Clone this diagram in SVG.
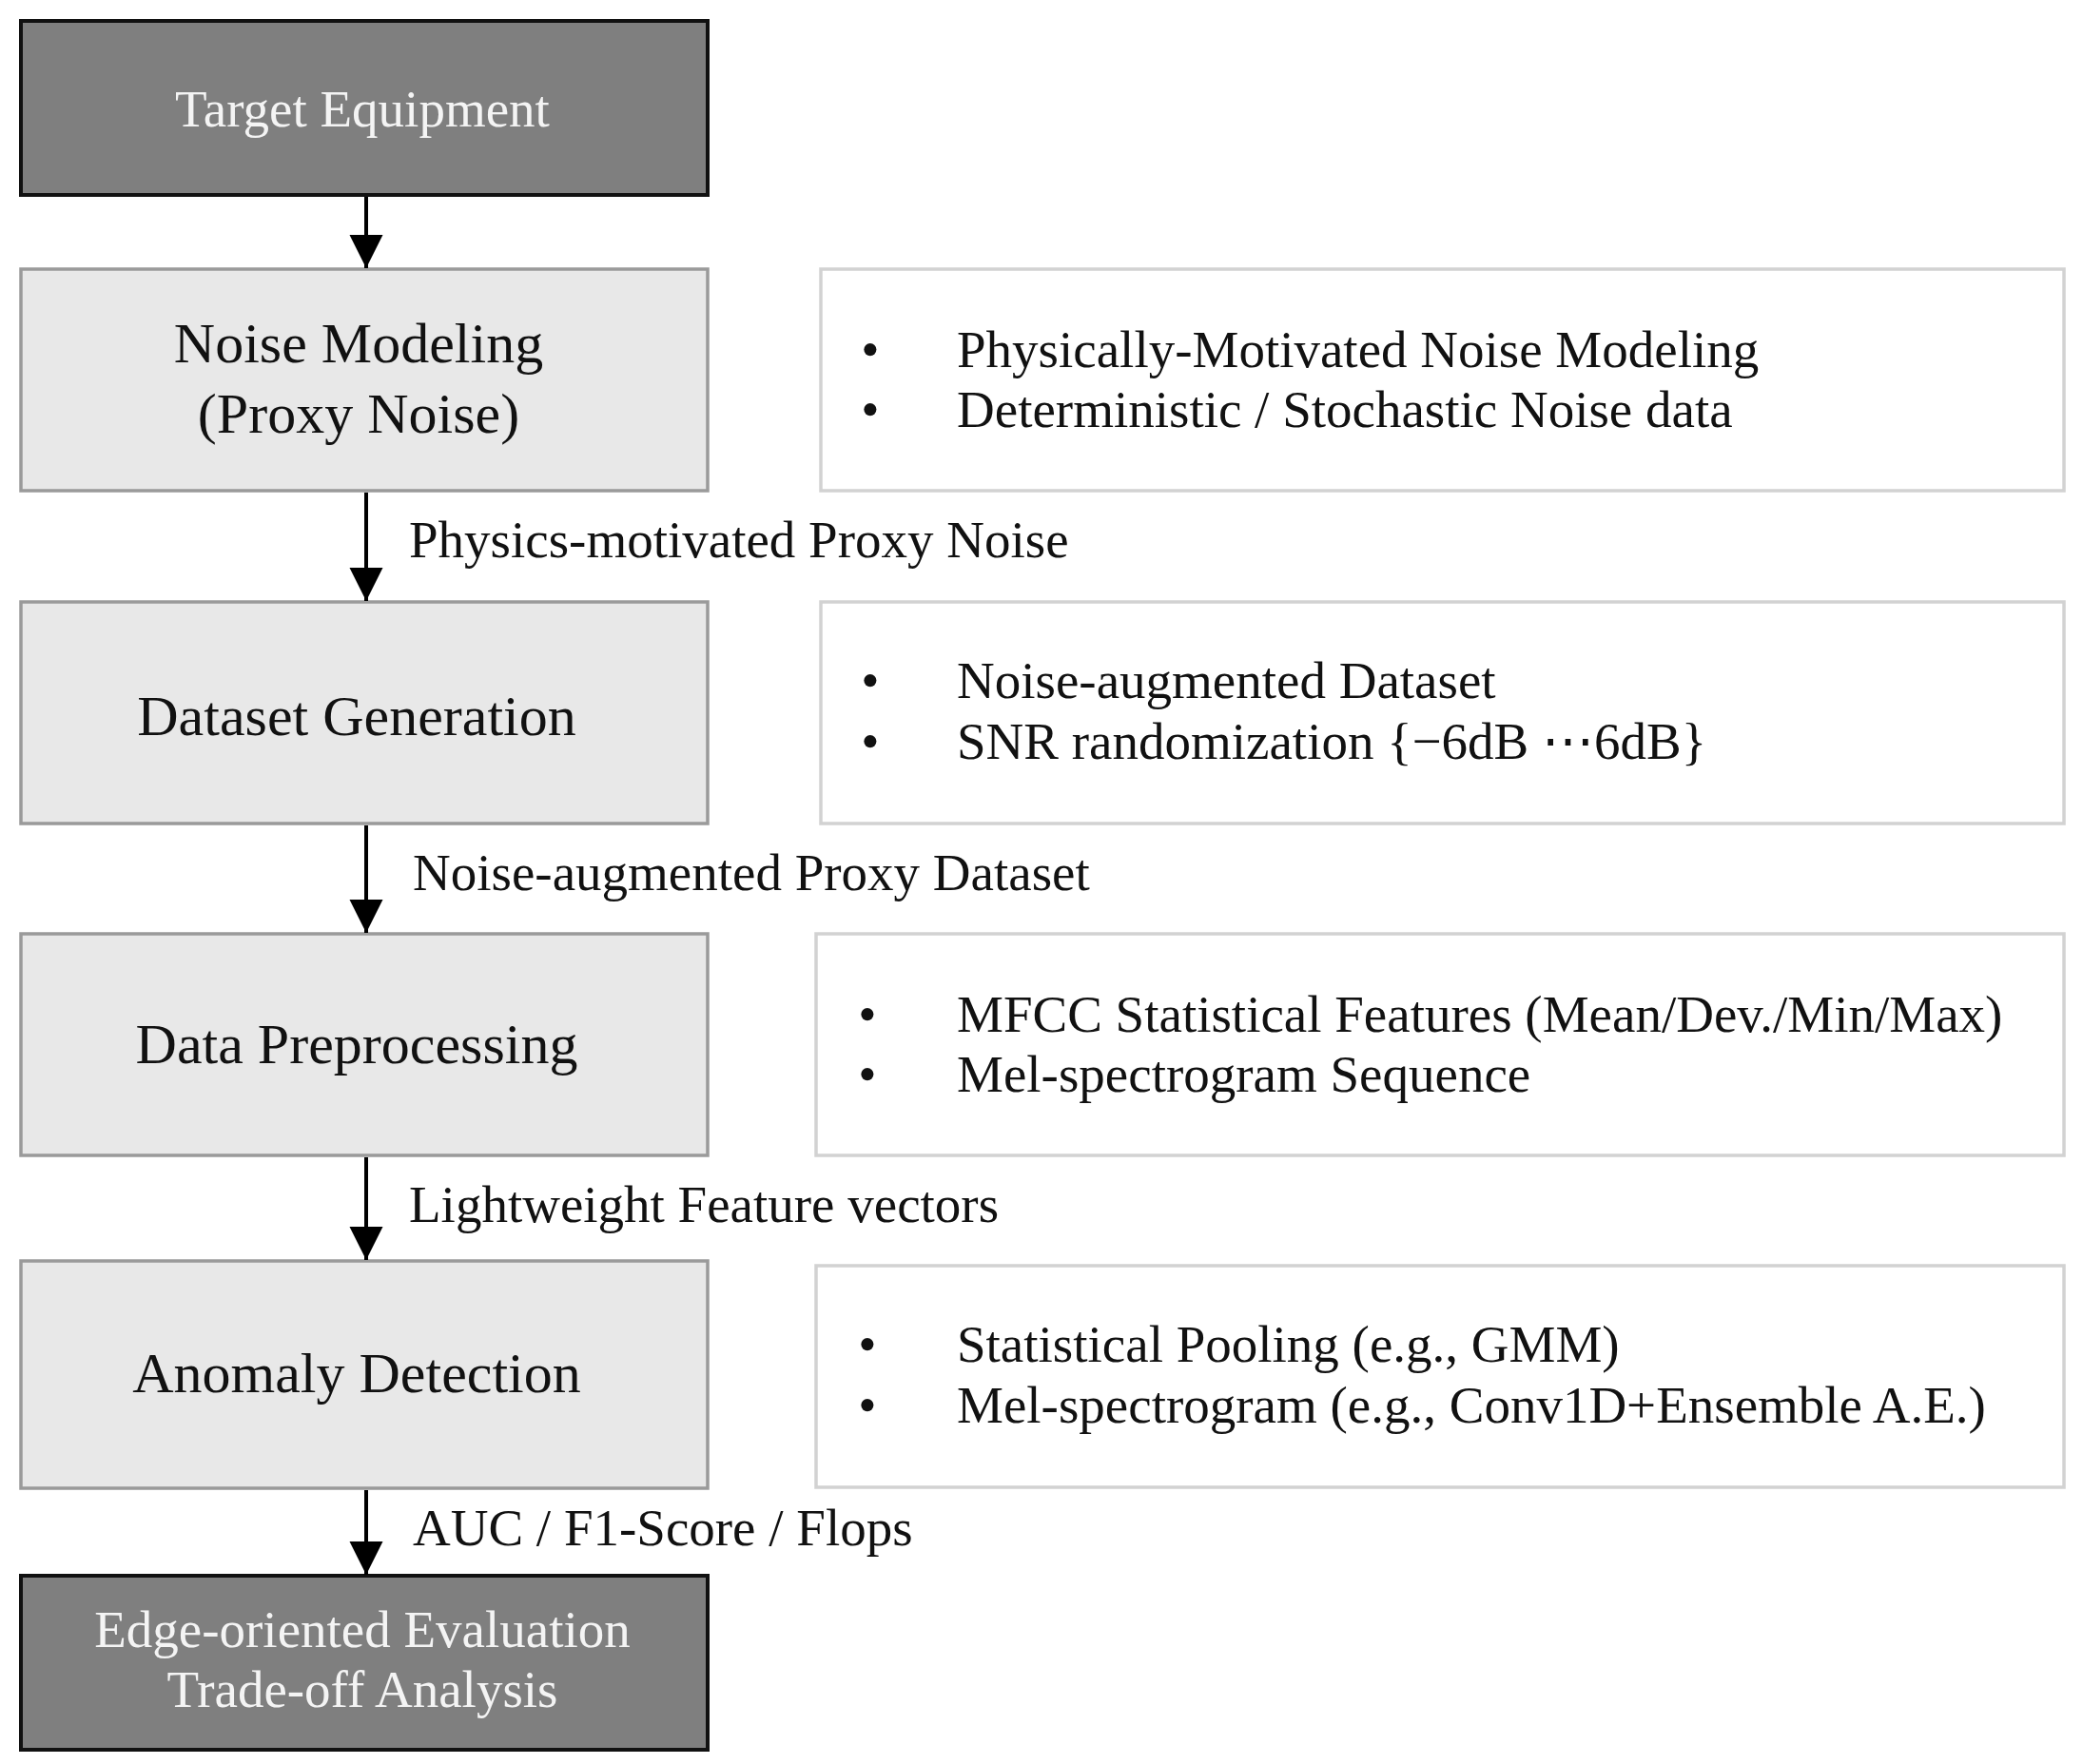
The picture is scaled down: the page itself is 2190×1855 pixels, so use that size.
<svg xmlns="http://www.w3.org/2000/svg" width="2190" height="1855" viewBox="0 0 2190 1855">
<style>
text{font-family:"Liberation Serif","Times New Roman",serif;fill:#111}
.t60{font-size:60px;text-anchor:middle}
.tw{font-size:55px;text-anchor:middle;fill:#f4f4f4}
.lbl{font-size:55px}
.bl{font-size:55px}
.bul{font-size:55px;text-anchor:middle}
.dark{fill:#7f7f7f;stroke:#111;stroke-width:4}
.light{fill:#e8e8e8;stroke:#9a9a9a;stroke-width:3.5}
.side{fill:#fff;stroke:#d2d2d2;stroke-width:3.5}
.conn line{stroke:#000;stroke-width:4;marker-end:url(#ah)}
</style>
<defs>
<marker id="ah" markerUnits="userSpaceOnUse" markerWidth="36" markerHeight="36" refX="35" refY="17.5" orient="auto">
<path d="M0,0 L35,17.5 L0,35 Z" fill="#000"/>
</marker>
</defs>
<rect width="2190" height="1855" fill="#fff"/>
<g id="n1"><rect class="dark" x="22" y="22" width="722" height="183"/><text class="tw" x="381" y="133">Target Equipment</text></g>
<g id="n2"><rect class="light" x="22" y="283" width="722" height="233"/><text class="t60" x="377" y="381">Noise Modeling</text><text class="t60" x="377" y="455">(Proxy Noise)</text></g>
<g id="n3"><rect class="light" x="22" y="633" width="722" height="233"/><text class="t60" x="375" y="773">Dataset Generation</text></g>
<g id="n4"><rect class="light" x="22" y="982" width="722" height="233"/><text class="t60" x="375" y="1118">Data Preprocessing</text></g>
<g id="n5"><rect class="light" x="22" y="1326" width="722" height="239"/><text class="t60" x="375" y="1464">Anomaly Detection</text></g>
<g id="n6"><rect class="dark" x="22" y="1657" width="722" height="183"/><text class="tw" x="381" y="1732">Edge-oriented Evaluation</text><text class="tw" x="381" y="1795">Trade-off Analysis</text></g>
<g id="d1"><rect class="side" x="863" y="283" width="1307" height="233"/><text class="bul" x="915" y="386">•</text><text class="bl" x="1006" y="386">Physically-Motivated Noise Modeling</text><text class="bul" x="915" y="449">•</text><text class="bl" x="1006" y="449">Deterministic / Stochastic Noise data</text></g>
<g id="d2"><rect class="side" x="863" y="633" width="1307" height="233"/><text class="bul" x="915" y="734">•</text><text class="bl" x="1006" y="734">Noise-augmented Dataset</text><text class="bul" x="915" y="798">•</text><text class="bl" x="1006" y="798">SNR randomization {−6dB ⋯6dB}</text></g>
<g id="d3"><rect class="side" x="858" y="982" width="1312" height="233"/><text class="bul" x="912" y="1085">•</text><text class="bl" x="1006" y="1085">MFCC Statistical Features (Mean/Dev./Min/Max)</text><text class="bul" x="912" y="1148">•</text><text class="bl" x="1006" y="1148">Mel-spectrogram Sequence</text></g>
<g id="d4"><rect class="side" x="858" y="1331" width="1312" height="233"/><text class="bul" x="912" y="1432">•</text><text class="bl" x="1006" y="1432">Statistical Pooling (e.g., GMM)</text><text class="bul" x="912" y="1496">•</text><text class="bl" x="1006" y="1496">Mel-spectrogram (e.g., Conv1D+Ensemble A.E.)</text></g>
<g id="connectors" class="conn">
<line x1="385" y1="207" x2="385" y2="282"/>
<line x1="385" y1="518" x2="385" y2="632"/>
<line x1="385" y1="868" x2="385" y2="981"/>
<line x1="385" y1="1217" x2="385" y2="1325"/>
<line x1="385" y1="1567" x2="385" y2="1656"/>
<text class="lbl" x="430" y="586">Physics-motivated Proxy Noise</text>
<text class="lbl" x="434" y="936">Noise-augmented Proxy Dataset</text>
<text class="lbl" x="430" y="1285">Lightweight Feature vectors</text>
<text class="lbl" x="434" y="1625">AUC / F1-Score / Flops</text>
</g>
</svg>
